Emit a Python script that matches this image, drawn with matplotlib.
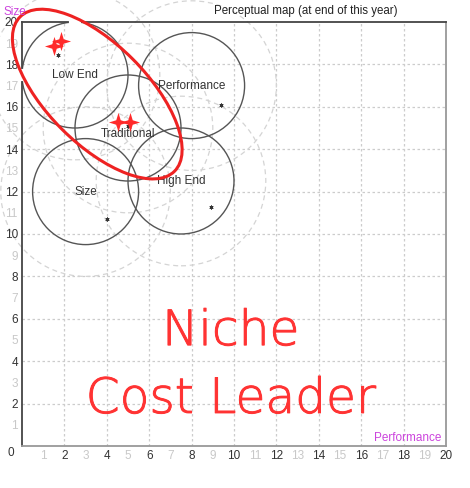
import matplotlib
matplotlib.use("Agg")
import matplotlib.pyplot as plt
from matplotlib.patches import Circle, Ellipse
from matplotlib.path import Path
import matplotlib.patheffects as pe
import numpy as np

# ---- data ----
segments = ["Low End", "Traditional", "Performance", "Size", "High End"]
seg_x = [2.5, 5.0, 8.0, 3.0, 7.5]
seg_y = [17.5, 15.0, 17.0, 12.0, 12.5]
label_y_offset = [0.0, -0.3, 0.0, 0.0, 0.0]
inner_radius = 2.5
outer_radius = 4.0
ideal_x = [1.7, 5.0, 9.4, 4.0, 8.9]
ideal_y = [18.45, 15.1, 16.1, 10.7, 11.25]
star_x = [1.5, 1.85, 4.55, 5.1]
star_y = [18.85, 19.1, 15.3, 15.3]
ellipse_center = (3.55, 16.6)
ellipse_w, ellipse_h, ellipse_angle = 10.3, 4.7, -45
ticks = list(range(0, 21))

fig = plt.figure(figsize=(4.70, 4.88), dpi=100)
ax = fig.add_axes([22/470, 1-446/488, 424/470, 424/488])
ax.set_xlim(0, 20)
ax.set_ylim(0, 20)

# grid
for v in range(2, 20, 2):
    ax.axvline(v, color="#cccccc", lw=0.9, ls=(0, (2, 2)), zorder=0)
    ax.axhline(v, color="#cccccc", lw=0.9, ls=(0, (2, 2)), zorder=0)

# outer dashed circles
for x, y in zip(seg_x, seg_y):
    ax.add_patch(Circle((x, y), outer_radius, fill=False, ec="#d4d4d4",
                        lw=0.9, ls=(0, (4, 3)), clip_on=False, zorder=1))
# inner solid circles
for x, y in zip(seg_x, seg_y):
    ax.add_patch(Circle((x, y), inner_radius, fill=False, ec="#555555",
                        lw=1.0, zorder=2))
for name, x, y, dy in zip(segments, seg_x, seg_y, label_y_offset):
    ax.text(x, y + dy, name, ha="center", va="center", fontsize=8.5,
            color="#333333", family="Liberation Sans", zorder=3)
ax.scatter(ideal_x, ideal_y, marker=(6, 2, 0), s=6, color="#333333", lw=0.6, zorder=3)

# spine gaps where the low end circle touches the frame
ax.plot([seg_x[0]-0.2, seg_x[0]+0.2], [20, 20], color="white", lw=3, clip_on=False, zorder=6)
ax.plot([0, 0], [seg_y[0]-0.2, seg_y[0]+0.2], color="white", lw=3, clip_on=False, zorder=6)

# red annotations
th = np.linspace(0, 2*np.pi, 9)[:-1]
r = np.where(np.arange(8) % 2 == 0, 1.0, 0.33)
verts = np.column_stack([r*np.sin(th), r*np.cos(th)])
star = Path(np.vstack([verts, verts[:1]]), closed=True)
ax.scatter(star_x, star_y, marker=star, s=190, color="#ff2a2a", lw=0, zorder=7)
ax.add_patch(Ellipse(ellipse_center, ellipse_w, ellipse_h, angle=ellipse_angle,
                     fill=False, ec="#ee2222", lw=2.2, clip_on=False, zorder=7))

thick = [pe.withStroke(linewidth=0.7, foreground="#ff3333")]
ax.text(9.85, 4.76, "Niche", ha="center", va="baseline", fontsize=35,
        color="#ff3333", family="DejaVu Sans", fontweight="light", zorder=8,
        path_effects=thick)
ax.text(9.85, 1.56, "Cost Leader", ha="center", va="baseline", fontsize=35,
        color="#ff3333", family="DejaVu Sans", fontweight="light", zorder=8,
        path_effects=thick)

# ticks
ax.set_xticks(ticks[1:])
ax.set_xticklabels([str(t) for t in ticks[1:]])
ax.set_yticks(ticks[1:])
ax.set_yticklabels([str(t) for t in ticks[1:]])
ax.tick_params(length=0, labelsize=8.5, pad=3)
for lab, t in zip(ax.get_xticklabels(), ticks[1:]):
    lab.set_color("#333333" if t % 2 == 0 else "#c8c8c8")
    lab.set_family("Liberation Sans")
for lab, t in zip(ax.get_yticklabels(), ticks[1:]):
    lab.set_color("#333333" if t % 2 == 0 else "#c8c8c8")
    lab.set_family("Liberation Sans")
ax.text(-0.35, -0.35, "0", ha="right", va="center", fontsize=8.5,
        color="#333333", family="Liberation Sans")

for s in ["left", "top"]:
    ax.spines[s].set_color("#444444")
    ax.spines[s].set_linewidth(1.3)
for s in ["right", "bottom"]:
    ax.spines[s].set_color("#999999")
    ax.spines[s].set_linewidth(1.3)

fig.text(306/470, 1-11/488, "Perceptual map (at end of this year)", ha="center",
         va="center", fontsize=8.3, color="#222222", family="Liberation Sans")
fig.text(3/470, 1-12/488, "Size", ha="left", va="center", fontsize=8.5,
         color="#cc44dd", family="Liberation Sans")
ax.text(19.8, 0.4, "Performance", ha="right", va="center", fontsize=8.5,
        color="#cc44dd", family="Liberation Sans")

fig.savefig("out.png", dpi=100)
